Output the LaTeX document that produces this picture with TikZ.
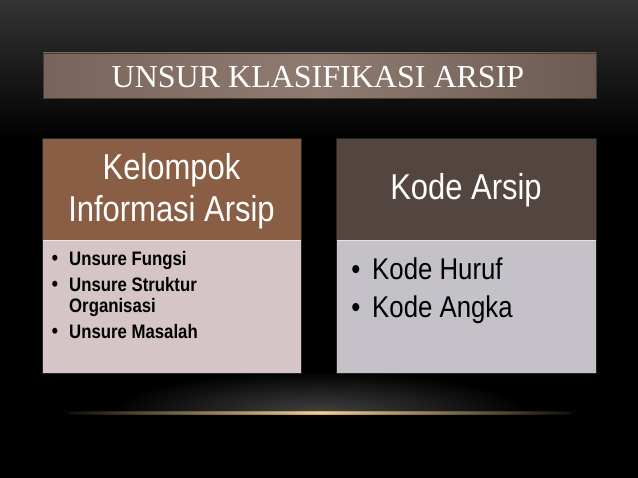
\documentclass[tikz,border=0pt]{standalone}
\usepackage{fontspec}
\setmainfont{Liberation Serif}
\newfontfamily\nsans[FakeStretch=0.86]{Liberation Sans}
\definecolor{bgtop}{RGB}{52,52,52}
\definecolor{barL}{RGB}{120,100,90}
\definecolor{barM}{RGB}{143,123,112}
\definecolor{barR}{RGB}{108,91,82}
\definecolor{barB}{RGB}{70,58,52}
\definecolor{hdrL}{RGB}{138,94,69}
\definecolor{bodyL}{RGB}{213,197,199}
\definecolor{hdrR}{RGB}{83,69,63}
\definecolor{bodyR}{RGB}{196,193,200}
\definecolor{edge}{RGB}{40,36,34}
\definecolor{gold}{RGB}{215,175,95}
\definecolor{glow}{RGB}{66,66,66}
\tikzset{
  hdrtext/.style={text=white,font=\nsans\fontsize{36}{42}\selectfont,align=center,inner sep=0pt},
  leftitem/.style={anchor=base west,inner sep=0pt,font=\nsans\bfseries\fontsize{19.5}{21.5}\selectfont,text=black},
  rightitem/.style={anchor=base west,inner sep=0pt,font=\nsans\fontsize{30}{36}\selectfont,text=black},
  lbul/.style={anchor=base,inner sep=0pt,font=\nsans\fontsize{22}{24}\selectfont},
  rbul/.style={anchor=base,inner sep=0pt,font=\nsans\fontsize{30}{36}\selectfont},
  boxedge/.style={draw=edge,line width=0.8pt}
}
\begin{document}
\begin{tikzpicture}[x=1pt,y=1pt]
\useasboundingbox (0,0) rectangle (638,478);
% background
\fill[black] (0,0) rectangle (638,478);
\shade[top color=bgtop,bottom color=black] (0,338) rectangle (638,478);
\begin{scope}
\clip (0,65) rectangle (638,120);
\shade[inner color=glow,outer color=black] (319,65) ellipse (210 and 42);
\end{scope}
\shade[left color=black,right color=black,middle color=gold] (60,63.5) rectangle (580,66.5);
\shade[left color=gold!10!black,right color=gold!10!black,middle color=gold!55!white] (70,64.5) rectangle (570,65.5);
% title bar
\shade[left color=barL,right color=barR,middle color=barM] (43,380) rectangle (596,425);
\draw[draw=barB,line width=0.8pt] (43,380) rectangle (596,425);
\node[text=white,font=\fontsize{32}{36}\selectfont,anchor=base,inner sep=0pt] (title) at (318,390) {UNSUR KLASIFIKASI ARSIP};
% left box
\fill[hdrL] (42,238) rectangle (301,340);
\fill[bodyL] (42,105) rectangle (301,238);
\draw[white!85!hdrL,line width=0.8pt] (42,238) -- (301,238);
\draw[boxedge] (42,105) rectangle (301,340);
\node[hdrtext,anchor=base] (kel1) at (171.5,298) {Kelompok};
\node[hdrtext,anchor=base] (kel2) at (171.5,256) {Informasi Arsip};
\node[lbul] (lb1) at (55,212) {•};
\node[leftitem] (l1) at (69,212) {Unsure Fungsi};
\node[lbul] (lb2) at (55,186) {•};
\node[leftitem] (l2) at (69,186) {Unsure Struktur};
\node[leftitem] (l3) at (69,165) {Organisasi};
\node[lbul] (lb3) at (55,139) {•};
\node[leftitem] (l4) at (69,139) {Unsure Masalah};
% right box
\fill[hdrR] (336,238) rectangle (596,340);
\fill[bodyR] (336,105) rectangle (596,238);
\draw[white!85!hdrR,line width=0.8pt] (336,238) -- (596,238);
\draw[boxedge] (336,105) rectangle (596,340);
\node[hdrtext,anchor=base] (kode) at (466,278) {Kode Arsip};
\node[rbul] (rb1) at (356,198) {•};
\node[rightitem] (r1) at (372,198) {Kode Huruf};
\node[rbul] (rb2) at (356,160) {•};
\node[rightitem] (r2) at (372,160) {Kode Angka};
\end{tikzpicture}
\end{document}
